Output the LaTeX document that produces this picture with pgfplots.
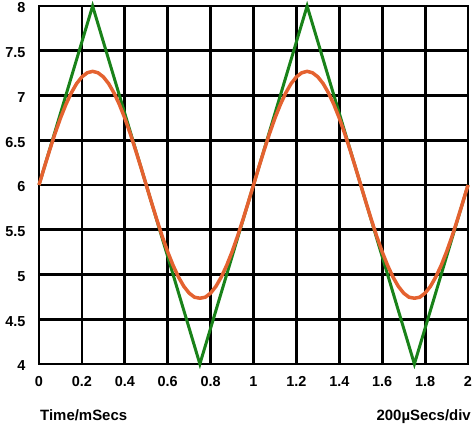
\documentclass[border=0pt]{standalone}
\usepackage{fontspec}
\setmainfont{Liberation Sans}
\usepackage{pgfplots}
\pgfplotsset{compat=1.18}

\definecolor{trigreen}{RGB}{25,130,25}
\definecolor{sinorange}{RGB}{228,98,48}

\begin{document}
\begin{tikzpicture}[x=1bp,y=1bp]
\useasboundingbox (0,0) rectangle (474,425);
\begin{axis}[
  at={(39bp,61bp)}, anchor=south west,
  scale only axis, width=429bp, height=358bp,
  xmin=0, xmax=2, ymin=4, ymax=8,
  xtick={0,0.2,...,2}, ytick={4,4.5,...,8},
  xticklabels={0,0.2,0.4,0.6,0.8,1,1.2,1.4,1.6,1.8,2},
  yticklabels={4,4.5,5,5.5,6,6.5,7,7.5,8},
  grid=major,
  major grid style={black, line width=2.8bp},
  axis line style={black, line width=2.8bp},
  major tick length=0pt,
  /pgf/number format/assume math mode=true,
  tick label style={font=\fontsize{14.5}{14.5}\selectfont\bfseries},
  xticklabel style={yshift=-9bp},
  yticklabel style={xshift=-10bp, yshift=-2bp},
  clip=false,
]
\addplot[trigreen, line width=3bp] coordinates {
  (0,6) (0.25,8) (0.75,4) (1.25,8) (1.75,4) (2,6)
};
\addplot[sinorange, line width=3.5bp] coordinates {
  (0.000,6.000) (0.025,6.199) (0.050,6.392) (0.075,6.577) (0.100,6.747)
  (0.125,6.898) (0.150,7.027) (0.175,7.132) (0.200,7.208) (0.225,7.254)
  (0.250,7.270) (0.275,7.254) (0.300,7.208) (0.325,7.132) (0.350,7.027)
  (0.375,6.898) (0.400,6.747) (0.425,6.577) (0.450,6.392) (0.475,6.199)
  (0.500,6.000) (0.525,5.801) (0.550,5.608) (0.575,5.423) (0.600,5.253)
  (0.625,5.102) (0.650,4.973) (0.675,4.868) (0.700,4.792) (0.725,4.746)
  (0.750,4.735) (0.775,4.746) (0.800,4.792) (0.825,4.868) (0.850,4.973)
  (0.875,5.102) (0.900,5.253) (0.925,5.423) (0.950,5.608) (0.975,5.801)
  (1.000,6.000) (1.025,6.199) (1.050,6.392) (1.075,6.577) (1.100,6.747)
  (1.125,6.898) (1.150,7.027) (1.175,7.132) (1.200,7.208) (1.225,7.254)
  (1.250,7.270) (1.275,7.254) (1.300,7.208) (1.325,7.132) (1.350,7.027)
  (1.375,6.898) (1.400,6.747) (1.425,6.577) (1.450,6.392) (1.475,6.199)
  (1.500,6.000) (1.525,5.801) (1.550,5.608) (1.575,5.423) (1.600,5.253)
  (1.625,5.102) (1.650,4.973) (1.675,4.868) (1.700,4.792) (1.725,4.746)
  (1.750,4.735) (1.775,4.746) (1.800,4.792) (1.825,4.868) (1.850,4.973)
  (1.875,5.102) (1.900,5.253) (1.925,5.423) (1.950,5.608) (1.975,5.801)
  (2.000,6.000)
};
\end{axis}
\node[anchor=base west, inner sep=0pt, font=\fontsize{15}{15}\selectfont\bfseries] at (40,5) {Time/mSecs};
\node[anchor=base east, inner sep=0pt, font=\fontsize{15}{15}\selectfont\bfseries] at (471,5) {200µSecs/div};
\end{tikzpicture}
\end{document}
